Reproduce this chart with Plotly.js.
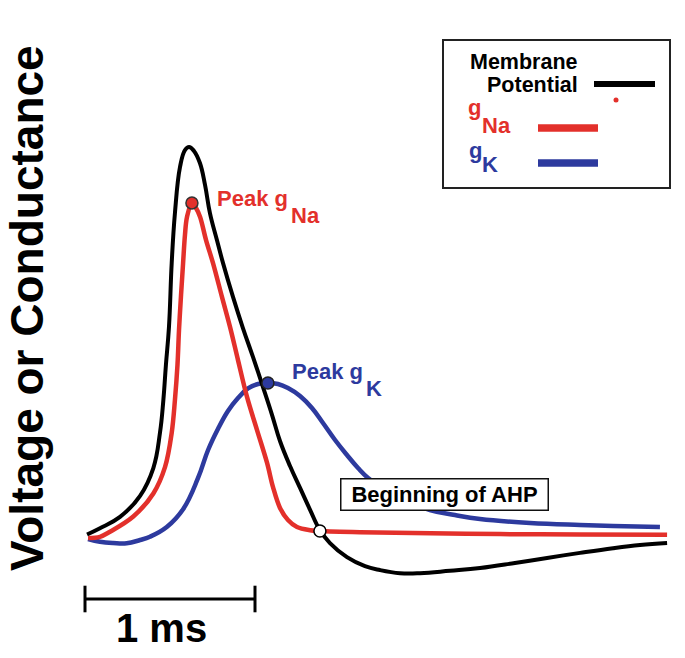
<!DOCTYPE html>
<html>
<head>
<meta charset="utf-8">
<script src="https://cdn.plot.ly/plotly-3.0.1.min.js"></script>
<style>html,body{margin:0;padding:0;background:#fff;}#chart{width:685px;height:658px;}</style>
</head>
<body>
<div id="chart"></div>
<script>
// ---- data (time in ms, values in arbitrary units; resting level = 0, AP peak = 100) ----
const membraneTime = [0.012,0.088,0.206,0.324,0.402,0.441,0.461,0.476,0.494,0.510,0.529,0.559,0.588,0.612,0.641,0.676,0.706,0.735,0.776,0.812,0.871,0.929,0.988,1.047,1.100,1.147,1.206,1.265,1.324,1.382,1.441,1.541,1.647,1.735,1.853,1.971,2.147,2.324,2.529,2.718,2.912,3.106,3.265,3.424];
const membraneValue = [0.9,2.5,5.4,10.8,17.9,26.9,35.3,44.3,54.0,70.3,83.1,94.9,99.2,100.0,99.0,95.9,90.3,83.1,76.2,70.3,61.6,53.7,46.3,38.6,31.5,24.8,18.4,12.8,7.2,2.0,-1.3,-4.9,-7.2,-8.2,-9.0,-9.0,-8.4,-7.7,-6.4,-5.1,-3.8,-2.6,-1.8,-1.3];

const gNaTime = [0.018,0.088,0.147,0.284,0.402,0.471,0.510,0.529,0.544,0.553,0.565,0.577,0.588,0.600,0.629,0.653,0.677,0.712,0.753,0.806,0.853,0.900,0.953,1.012,1.071,1.106,1.147,1.194,1.247,1.324,1.382,1.618,1.929,2.441,2.912,3.424];
const gNaValue = [0.0,0.3,1.6,5.5,11.4,18.2,26.9,35.3,44.3,53.2,62.2,70.3,77.5,82.1,85.7,84.4,82.1,76.2,70.3,61.6,54.0,45.5,36.1,27.6,19.2,13.0,7.7,4.6,2.8,2.0,1.8,1.5,1.3,1.0,0.9,0.8];

const gKTime = [0.018,0.088,0.165,0.245,0.324,0.382,0.481,0.578,0.665,0.724,0.782,0.841,0.900,0.959,1.018,1.076,1.135,1.194,1.265,1.335,1.400,1.471,1.541,1.606,1.665,1.765,1.882,2.029,2.176,2.324,2.618,2.912,3.106,3.382];
const gKValue = [-0.26,-0.95,-1.28,-1.36,-0.51,0.33,2.81,7.42,15.35,22.51,27.88,32.48,35.81,38.24,39.39,39.64,39.39,38.36,36.32,33.25,29.41,25.06,21.23,17.90,15.35,12.28,9.72,7.16,5.88,4.86,3.84,3.32,3.07,2.81];

const ahpTime = [1.382];
const ahpValue = [1.8];

const scaleBarTime = [0, 1];
const scaleBarLevel = -15.6;

const labels = {
  yTitle: "Voltage or Conductance",
  scale: "1 ms",
  ahp: "Beginning of AHP",
  peak: "Peak g",
  na: "Na",
  k: "K",
  legendA: "Membrane",
  legendB: "Potential",
  legendG: "g"
};

// ---- styling ----
const BLACK = "#000000", RED = "#e3302b", BLUE = "#2d3a9e";
const W = 685, H = 658;
const FONT = "Liberation Sans, Arial, Helvetica, sans-serif";
const px = v => v / W;
const py = v => 1 - v / H;

function argmax(a){ let m = 0; for (let i = 1; i < a.length; i++) if (a[i] > a[m]) m = i; return m; }
const iNa = argmax(gNaValue), iK = argmax(gKValue);

const traces = [
  {x: gKTime, y: gKValue, mode: "lines", line: {color: BLUE, width: 4.5, shape: "spline", smoothing: 1.2}, hoverinfo: "skip"},
  {x: gNaTime, y: gNaValue, mode: "lines", line: {color: RED, width: 4.5, shape: "spline", smoothing: 1}, hoverinfo: "skip"},
  {x: membraneTime, y: membraneValue, mode: "lines", line: {color: BLACK, width: 4, shape: "spline", smoothing: 1.2}, hoverinfo: "skip"},
  {x: [gNaTime[iNa]], y: [gNaValue[iNa]], mode: "markers", marker: {color: RED, size: 12, line: {color: "#333", width: 1.5}}},
  {x: [gKTime[iK]], y: [gKValue[iK]], mode: "markers", marker: {color: BLUE, size: 12, line: {color: "#222", width: 1.5}}},
  {x: ahpTime, y: ahpValue, mode: "markers", marker: {color: "#ffffff", size: 12, line: {color: BLACK, width: 1.5}}},
  {x: scaleBarTime, y: [scaleBarLevel, scaleBarLevel], mode: "lines+markers", line: {color: BLACK, width: 3},
   marker: {symbol: "line-ns", size: 19, line: {color: BLACK, width: 3}}}
];

function ann(text, x, y, size, color, xanchor, extra){
  return Object.assign({text: text, xref: "paper", yref: "paper", x: px(x), y: py(y), xanchor: xanchor || "left", yanchor: "middle",
    showarrow: false, font: {family: FONT, size: size, color: color, weight: "bold"}}, extra || {});
}

const annotations = [
  ann(labels.yTitle, 27, 308, 46, BLACK, "center", {textangle: -90}),
  ann(labels.scale, 161, 628, 40, BLACK, "center"),
  ann(labels.peak, 215, 198, 22, RED),
  ann(labels.na, 289, 216, 22, RED),
  ann(labels.peak, 290, 371, 22, BLUE),
  ann(labels.k, 364, 388, 22, BLUE),
  ann(labels.ahp, 444, 494, 22, BLACK, "center", {bordercolor: "#111", borderwidth: 1.5, borderpad: 1, bgcolor: "#ffffff", width: 204, height: 28}),
  ann(labels.legendA, 579, 62.5, 21.5, BLACK, "right", {borderpad: 0}),
  ann(labels.legendB, 579, 85, 21.5, BLACK, "right", {borderpad: 0}),
  ann(labels.legendG, 466, 108, 22, RED),
  ann(labels.na, 480, 125, 22, RED),
  ann(labels.legendG, 467, 150, 22, BLUE),
  ann(labels.k, 480, 164, 22, BLUE)
];

const shapes = [
  {type: "rect", xref: "paper", yref: "paper", x0: px(443), x1: px(670), y0: py(40), y1: py(188), line: {color: "#222", width: 2}, fillcolor: "rgba(0,0,0,0)"},
  {type: "line", xref: "paper", yref: "paper", x0: px(594), x1: px(655), y0: py(84), y1: py(84), line: {color: BLACK, width: 6}},
  {type: "circle", xref: "paper", yref: "paper", x0: px(613.5), x1: px(618.5), y0: py(97.5), y1: py(102.5), line: {color: RED, width: 0}, fillcolor: RED},
  {type: "line", xref: "paper", yref: "paper", x0: px(538), x1: px(598), y0: py(128), y1: py(128), line: {color: RED, width: 7.5}},
  {type: "line", xref: "paper", yref: "paper", x0: px(538), x1: px(598), y0: py(163), y1: py(163), line: {color: BLUE, width: 7.5}}
];

const xr = [(0 - 85) / 170, (W - 85) / 170];
const yr = [(538 - H) / 3.91, 538 / 3.91];

const layout = {
  width: W, height: H,
  margin: {l: 0, r: 0, t: 0, b: 0, pad: 0},
  paper_bgcolor: "#ffffff", plot_bgcolor: "#ffffff",
  showlegend: false,
  xaxis: {range: xr, visible: false, showgrid: false, zeroline: false, fixedrange: true},
  yaxis: {range: yr, visible: false, showgrid: false, zeroline: false, fixedrange: true},
  annotations: annotations,
  shapes: shapes,
  font: {family: FONT}
};

Plotly.newPlot("chart", traces, layout, {displayModeBar: false, staticPlot: true});
</script>
</body>
</html>
